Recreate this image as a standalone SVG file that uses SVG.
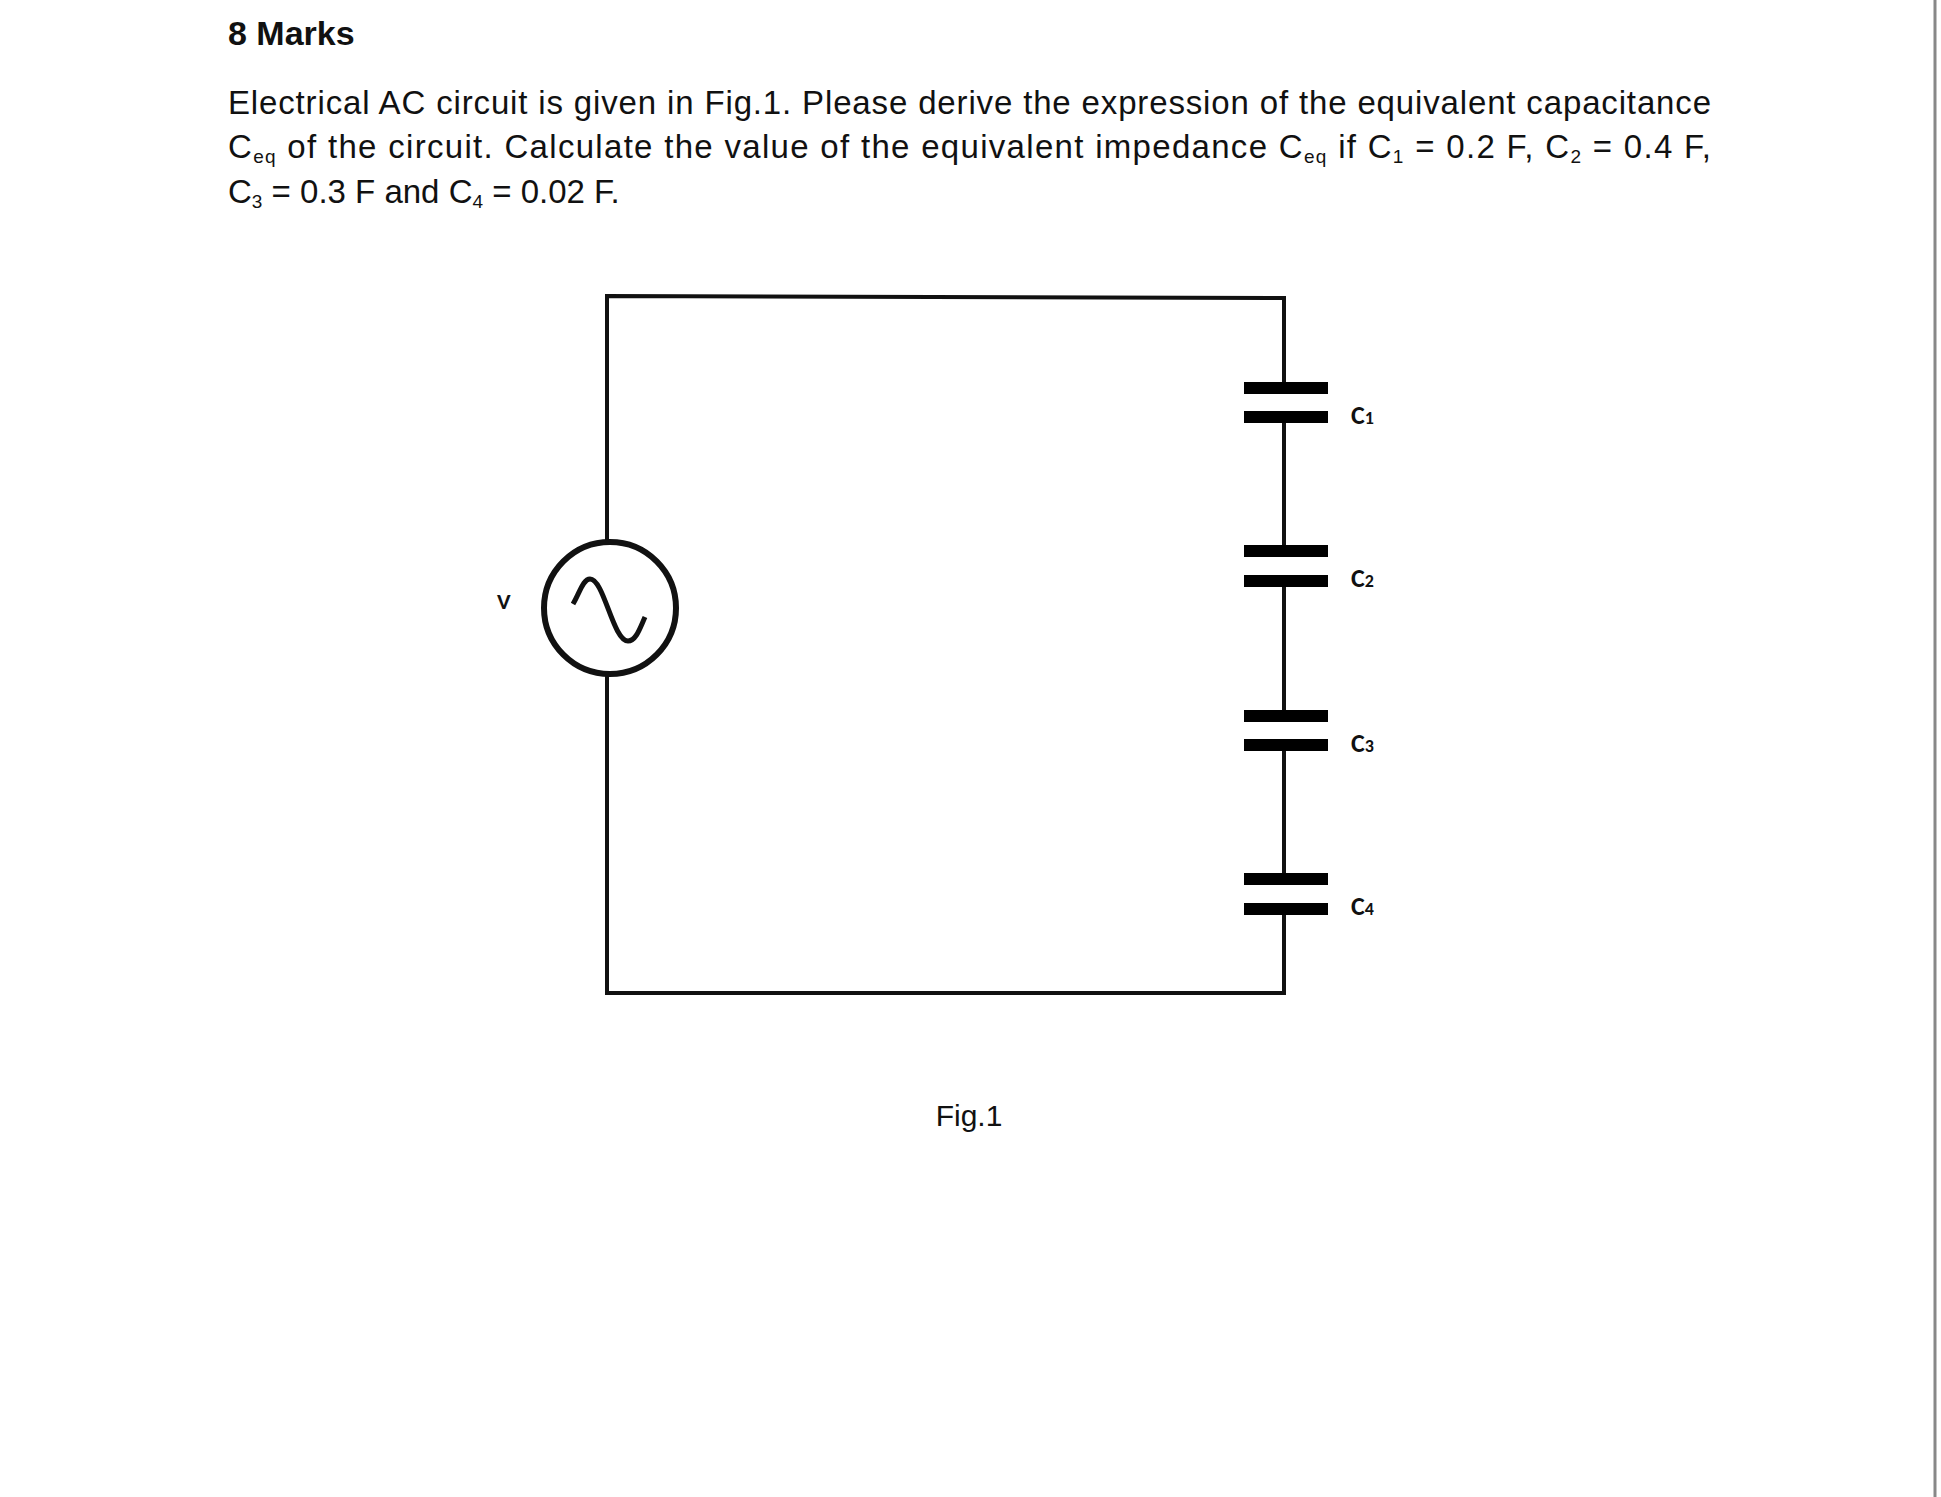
<svg xmlns="http://www.w3.org/2000/svg" width="1941" height="1497" viewBox="0 0 1941 1497">
<style>
.t{font-family:"Liberation Sans",Arial,sans-serif;font-size:33px;fill:#111}
.s{font-size:19px}
.w{stroke:#111;stroke-width:4;fill:none}
.p{fill:#000}
.l{font-family:Carlito,"Liberation Sans",sans-serif;font-weight:bold;font-size:26px;fill:#111}
</style>
<rect width="1941" height="1497" fill="#fff"/>
<line x1="1935" y1="0" x2="1935" y2="1497" stroke="#888" stroke-width="3"/>
<text class="t" x="228" y="45" style="font-weight:bold;font-size:34px">8 Marks</text>
<text class="t" x="228" y="114" textLength="1483" lengthAdjust="spacing">Electrical AC circuit is given in Fig.1. Please derive the expression of the equivalent capacitance</text>
<text class="t" x="228" y="158" textLength="1483" lengthAdjust="spacing">C<tspan class="s" dy="5">eq</tspan><tspan dy="-5"> of the circuit. Calculate the value of the equivalent impedance C</tspan><tspan class="s" dy="5">eq</tspan><tspan dy="-5"> if C</tspan><tspan class="s" dy="5">1</tspan><tspan dy="-5"> = 0.2 F, C</tspan><tspan class="s" dy="5">2</tspan><tspan dy="-5"> = 0.4 F,</tspan></text>
<text class="t" x="228" y="203">C<tspan class="s" dy="5">3</tspan><tspan dy="-5"> = 0.3 F and C</tspan><tspan class="s" dy="5">4</tspan><tspan dy="-5"> = 0.02 F.</tspan></text>
<g id="connectors">
<polyline class="w" points="607,542 607,296 1284,298 1284,388"/>
<polyline class="w" points="607,674 607,993 1284,993 1284,909"/>
<line class="w" x1="1284" y1="417" x2="1284" y2="551"/>
<line class="w" x1="1284" y1="581" x2="1284" y2="716"/>
<line class="w" x1="1284" y1="745" x2="1284" y2="879"/>
</g>
<g id="source">
<circle cx="610" cy="608" r="66" fill="#fff" stroke="#111" stroke-width="6"/>
<path d="M573,604 C580,592 583,579 590,579 C604,579 613,641 628,641 C636,641 640,628 645,617" fill="none" stroke="#111" stroke-width="5"/>
<text class="l" x="497" y="609" style="font-size:23px">V</text>
</g>
<g id="C1"><rect class="p" x="1244" y="382" width="84" height="12"/><rect class="p" x="1244" y="411" width="84" height="12"/><text class="l" x="1351" y="424">C<tspan font-size="18">1</tspan></text></g>
<g id="C2"><rect class="p" x="1244" y="545" width="84" height="12"/><rect class="p" x="1244" y="575" width="84" height="12"/><text class="l" x="1351" y="587">C<tspan font-size="18">2</tspan></text></g>
<g id="C3"><rect class="p" x="1244" y="710" width="84" height="12"/><rect class="p" x="1244" y="739" width="84" height="12"/><text class="l" x="1351" y="752">C<tspan font-size="18">3</tspan></text></g>
<g id="C4"><rect class="p" x="1244" y="873" width="84" height="12"/><rect class="p" x="1244" y="903" width="84" height="12"/><text class="l" x="1351" y="915">C<tspan font-size="18">4</tspan></text></g>
<text class="t" x="969" y="1126" text-anchor="middle" style="font-size:30px">Fig.1</text>
</svg>
